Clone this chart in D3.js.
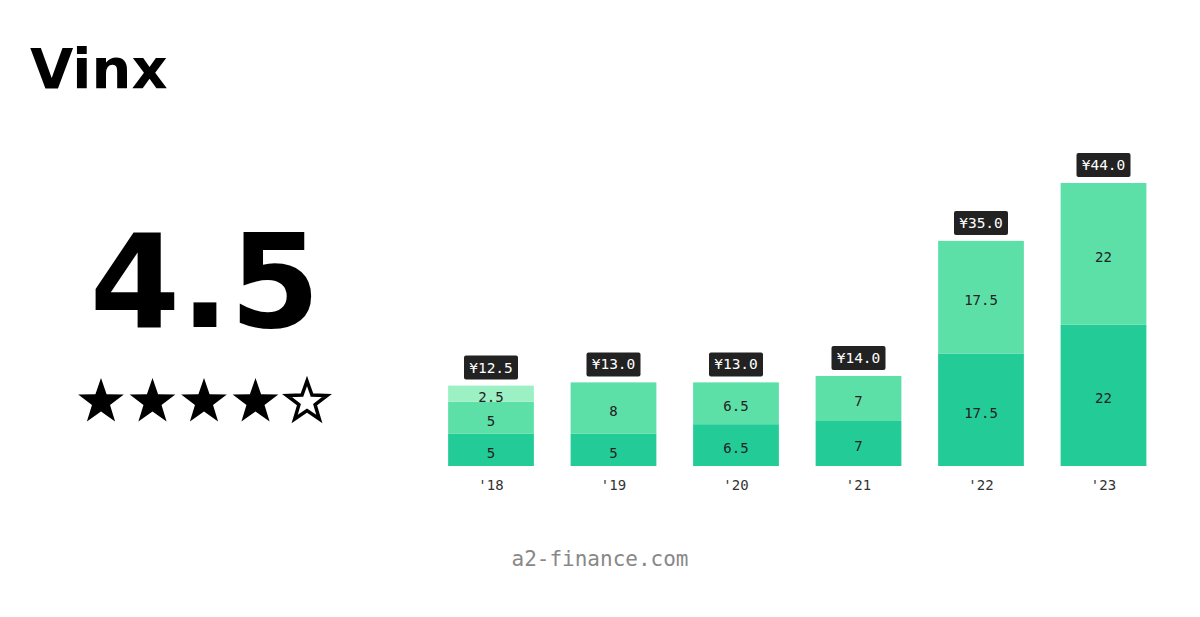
<!DOCTYPE html><html><head><meta charset="utf-8"><script src="https://cdn.jsdelivr.net/npm/d3@7"></script>
<style>body{margin:0;background:#fff}</style></head><body><svg id="c" width="1200" height="617"></svg>
<script>
const categories=["'18","'19","'20","'21","'22","'23"];
const seriesA=[5,5,6.5,7,17.5,22];
const seriesB=[5,8,6.5,7,17.5,22];
const seriesC=[2.5,0,0,0,0,0];
const totals=["¥12.5","¥13.0","¥13.0","¥14.0","¥35.0","¥44.0"];
const colors=["#23cc96","#5ce0a8","#9bf0c4"];
const svg=d3.select("#c");
const mono="DejaVu Sans Mono, monospace";
svg.append("text").attr("x",30).attr("y",88).attr("font-family","DejaVu Sans, sans-serif").attr("font-weight","bold").attr("font-size",56).text("Vinx");
svg.append("text").attr("x",205).attr("y",327).attr("text-anchor","middle").attr("font-family","DejaVu Sans, sans-serif").attr("font-weight","bold").attr("font-size",130).text("4.5");
const star=(cx,cy,R,r)=>{let p=[];for(let i=0;i<10;i++){const a=-Math.PI/2+i*Math.PI/5,rr=i%2?r:R;p.push([cx+rr*Math.cos(a),cy+rr*Math.sin(a)]);}return "M"+p.join("L")+"Z";};
for(let i=0;i<5;i++){const cx=101+i*51.5;
 if(i<4) svg.append("path").attr("d",star(cx,402,24,9.5)).attr("fill","#000");
 else {svg.append("path").attr("d",star(cx,402,21,8.5)).attr("fill","none").attr("stroke","#000").attr("stroke-width",3.5).attr("stroke-linejoin","miter");}
}
const x=d3.scaleBand().domain(categories).range([429.75,1164.75]).paddingInner(0.3).paddingOuter(0.15);
const y=d3.scaleLinear().domain([0,44]).range([466,183]);
const series=[seriesA,seriesB,seriesC];
categories.forEach((c,i)=>{
 let base=0;
 series.forEach((s,k)=>{const v=s[i];if(!v)return;
  svg.append("text").attr("class","lbl").attr("x",x(c)+x.bandwidth()/2).attr("y",(y(base)+y(base+v))/2+8).attr("text-anchor","middle").attr("font-family",mono).attr("font-size",14).attr("fill","#222").text(v);
  svg.insert("rect",".lbl").attr("x",x(c)).attr("width",x.bandwidth()).attr("y",y(base+v)).attr("height",y(base)-y(base+v)).attr("fill",colors[k]);
  base+=v;});
 const cx=x(c)+x.bandwidth()/2, ty=y(base)-18;
 const w=54;
 svg.append("rect").attr("x",cx-w/2).attr("y",ty-12).attr("width",w).attr("height",24).attr("rx",2).attr("fill","#222");
 svg.append("text").attr("x",cx).attr("y",ty+5).attr("text-anchor","middle").attr("font-family",mono).attr("font-size",14.5).attr("fill","#fff").text(totals[i]);
});
const ax=svg.append("g").attr("transform","translate(0,466)").call(d3.axisBottom(x).tickSize(0).tickPadding(14));
ax.select(".domain").remove();
ax.selectAll("text").attr("font-family",mono).attr("font-size",14).attr("fill","#333");
svg.append("text").attr("x",600).attr("y",566).attr("text-anchor","middle").attr("font-family",mono).attr("font-size",21).attr("fill","#888").text("a2-finance.com");
</script></body></html>
